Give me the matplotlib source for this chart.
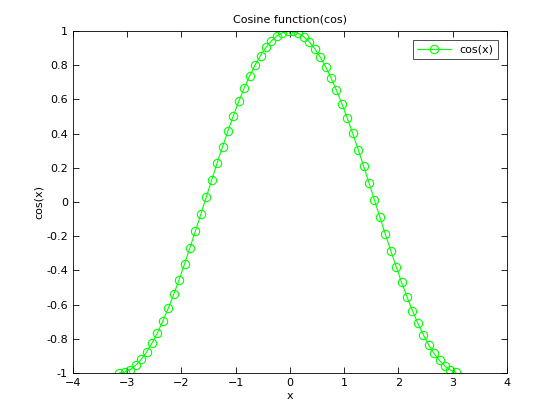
import matplotlib
matplotlib.use('Agg')
import matplotlib.pyplot as plt

x_vals = [-3.14, -3.04, -2.94, -2.84, -2.74, -2.64, -2.54, -2.44, -2.34, -2.24,
          -2.14, -2.04, -1.94, -1.84, -1.74, -1.64, -1.54, -1.44, -1.34, -1.24,
          -1.14, -1.04, -0.94, -0.84, -0.74, -0.64, -0.54, -0.44, -0.34, -0.24,
          -0.14, -0.04, 0.06, 0.16, 0.26, 0.36, 0.46, 0.56, 0.66, 0.76,
          0.86, 0.96, 1.06, 1.16, 1.26, 1.36, 1.46, 1.56, 1.66, 1.76,
          1.86, 1.96, 2.06, 2.16, 2.26, 2.36, 2.46, 2.56, 2.66, 2.76,
          2.86, 2.96, 3.06]
y_vals = [-1.0, -0.995, -0.980, -0.955, -0.921, -0.878, -0.825, -0.765, -0.697, -0.622,
          -0.540, -0.454, -0.362, -0.267, -0.170, -0.071, 0.029, 0.129, 0.227, 0.323,
          0.416, 0.505, 0.589, 0.668, 0.737, 0.801, 0.857, 0.904, 0.942, 0.971,
          0.990, 0.999, 0.998, 0.987, 0.967, 0.936, 0.897, 0.848, 0.791, 0.726,
          0.654, 0.575, 0.490, 0.401, 0.307, 0.211, 0.112, 0.012, -0.087, -0.187,
          -0.284, -0.378, -0.469, -0.554, -0.635, -0.709, -0.776, -0.835, -0.886, -0.927,
          -0.960, -0.983, -0.996]

plt.rcParams.update({'font.family': 'DejaVu Sans', 'font.size': 8})

fig = plt.figure(figsize=(5.6, 4.2), dpi=100)
ax = fig.add_axes([0.13, 0.112, 0.775, 0.814])

ax.plot(x_vals, y_vals, '-o', color='#00FF00', lw=0.8, markersize=6,
        markerfacecolor='none', markeredgewidth=0.8, label='cos(x)')

ax.set_xlim(-4, 4)
ax.set_ylim(-1, 1)
ax.set_xticks(range(-4, 5))
ax.set_yticks([-1, -0.8, -0.6, -0.4, -0.2, 0, 0.2, 0.4, 0.6, 0.8, 1])
ax.set_yticklabels(['-1', '-0.8', '-0.6', '-0.4', '-0.2', '0', '0.2', '0.4', '0.6', '0.8', '1'])
ax.tick_params(direction='in', top=True, right=True, length=4, width=0.6)
for s in ax.spines.values():
    s.set_linewidth(0.6)

ax.set_title('Cosine function(cos)', fontsize=8)
ax.set_xlabel('x', labelpad=2)
ax.set_ylabel('cos(x)', labelpad=2)
leg = ax.legend(loc='upper right', fancybox=False, edgecolor='black',
                handlelength=3, borderaxespad=0.8)
leg.get_frame().set_linewidth(0.6)

fig.savefig('out.png', dpi=100)
